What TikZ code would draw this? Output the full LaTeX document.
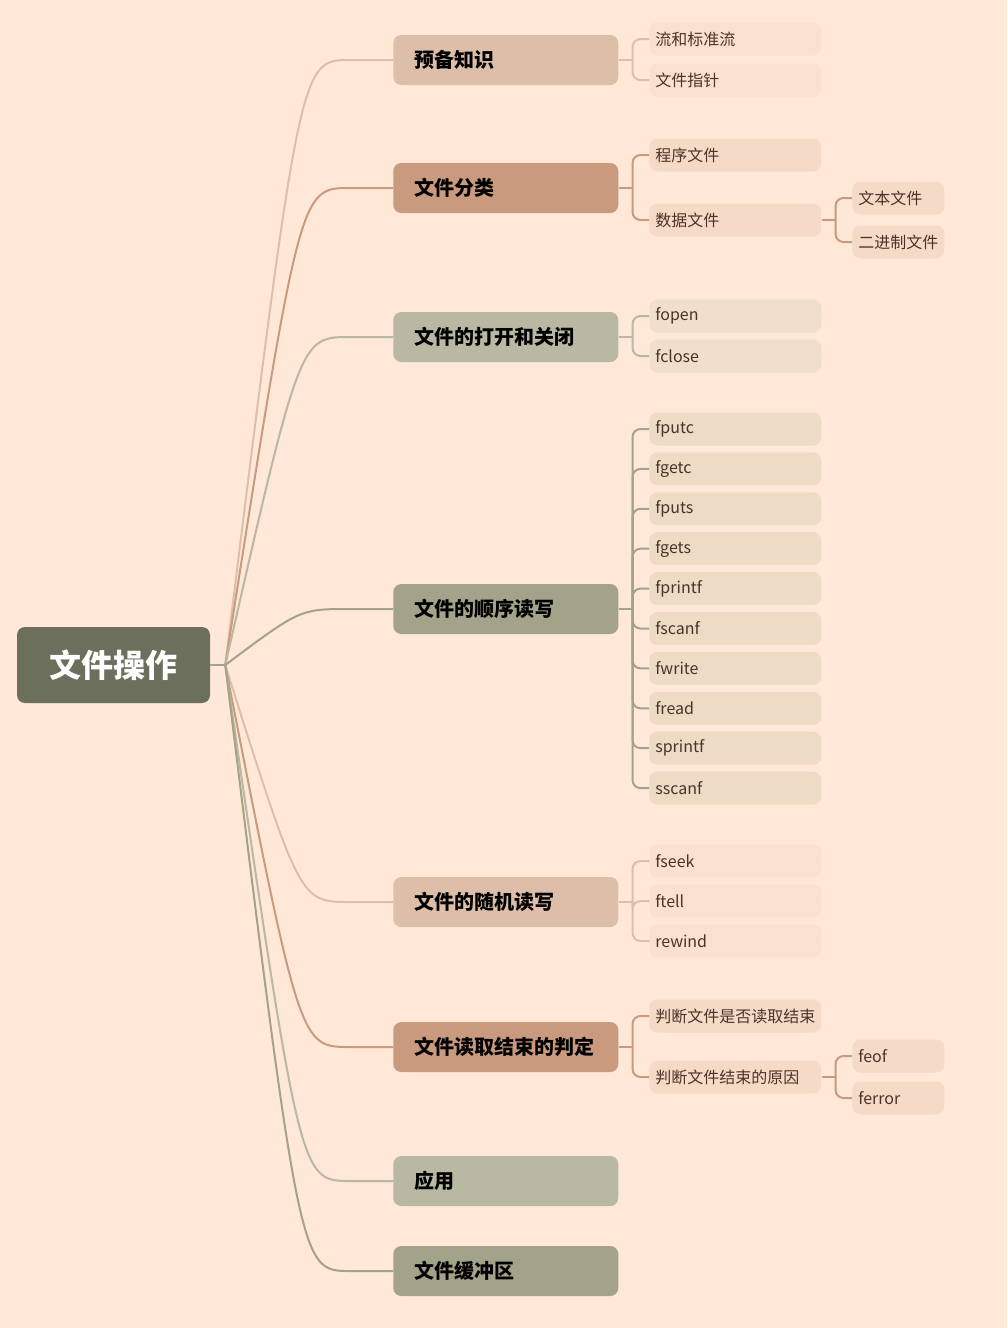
\documentclass[tikz,border=0pt]{standalone}
\usepackage{fontspec}
\setmainfont{Noto Sans CJK SC}
\usetikzlibrary{positioning,calc}
\definecolor{paper}{HTML}{FFE8D8}
\definecolor{rootc}{HTML}{6B6F5B}
\definecolor{tanA}{HTML}{DDBFA9}
\definecolor{tanB}{HTML}{C99A7E}
\definecolor{sageA}{HTML}{B8B8A3}
\definecolor{sageB}{HTML}{A3A38A}
\definecolor{leafA}{HTML}{F9E0CF}
\definecolor{leafB}{HTML}{F5DBC7}
\definecolor{leafC}{HTML}{F0DFCA}
\definecolor{leafD}{HTML}{EDDBC6}
\definecolor{ink}{HTML}{4A3428}

\begin{document}
\begin{tikzpicture}[x=0.75pt,y=-0.75pt,
  root/.style={fill=rootc,rounded corners=6pt,minimum width=144.75pt,minimum height=57pt,text=white,font=\fontsize{24}{28}\selectfont\bfseries},
  topic/.style={rounded corners=6pt,anchor=west,minimum height=37.5pt,text width=137.25pt,inner xsep=15.75pt,align=left,font=\fontsize{15}{18}\selectfont\bfseries},
  leaf/.style={rounded corners=6pt,anchor=west,minimum height=24.75pt,text width=120pt,inner xsep=4.5pt,align=left,text=ink,font=\fontsize{12}{14}\selectfont},
  subleaf/.style={leaf,text width=60pt},
  link/.style={line width=1.5pt},
  bracket/.style={line width=1.5pt,rounded corners=6pt}]
\path[use as bounding box,fill=paper] (0,0) rectangle (1007,1328);

% root and main topics
\node[root] (ops) at (113.5,665) {文件操作};
\node[topic,fill=tanA] (prep) at (393,60) {预备知识};
\node[topic,fill=tanB] (kind) at (393,188) {文件分类};
\node[topic,fill=sageA] (open) at (393,337) {文件的打开和关闭};
\node[topic,fill=sageB] (seq) at (393,609) {文件的顺序读写};
\node[topic,fill=tanA] (rand) at (393,902) {文件的随机读写};
\node[topic,fill=tanB] (eof) at (393,1047) {文件读取结束的判定};
\node[topic,fill=sageA] (app) at (393,1181) {应用};
\node[topic,fill=sageB] (buf) at (393,1271) {文件缓冲区};

\coordinate (hub) at ($(ops.east)+(15,0)$);
\draw[link,sageB] (ops.east)--(hub);
\foreach \b/\c in {prep/tanA,kind/tanB,open/sageA,seq/sageB,rand/tanA,eof/tanB,app/sageA,buf/sageB}
  \draw[link,\c] (hub) .. controls ($(\b.west)+(-93,0)$) .. ($(\b.west)+(-43,0)$) -- (\b.west);

% leaves
\node[leaf,fill=leafA] (stream) at (649,39) {流和标准流};
\node[leaf,fill=leafA] (fptr) at (649,80) {文件指针};
\coordinate (prepj) at ($(prep.east)+(14,0)$);
\draw[link,tanA] (prep.east)--(prepj);
\draw[bracket,tanA] (prepj) |- (stream.west);
\draw[bracket,tanA] (prepj) |- (fptr.west);

\node[leaf,fill=leafB] (prog) at (649,155) {程序文件};
\node[leaf,fill=leafB] (data) at (649,220) {数据文件};
\node[subleaf,fill=leafB] (text) at (852,198) {文本文件};
\node[subleaf,fill=leafB] (bin) at (852,242) {二进制文件};
\coordinate (kindj) at ($(kind.east)+(14,0)$);
\coordinate (dataj) at ($(data.east)+(14,0)$);
\draw[link,tanB] (kind.east)--(kindj);
\draw[bracket,tanB] (kindj) |- (prog.west);
\draw[bracket,tanB] (kindj) |- (data.west);
\draw[link,tanB] (data.east)--(dataj);
\draw[bracket,tanB] (dataj) |- (text.west);
\draw[bracket,tanB] (dataj) |- (bin.west);

\node[leaf,fill=leafC] (fopen) at (649,316) {fopen};
\node[leaf,fill=leafC] (fclose) at (649,356) {fclose};
\coordinate (openj) at ($(open.east)+(14,0)$);
\draw[link,sageA] (open.east)--(openj);
\draw[bracket,sageA] (openj) |- (fopen.west);
\draw[bracket,sageA] (openj) |- (fclose.west);

\coordinate (seqj) at ($(seq.east)+(14,0)$);
\draw[link,sageB] (seq.east)--(seqj);
\foreach \f [count=\i from 0] in {fputc,fgetc,fputs,fgets,fprintf,fscanf,fwrite,fread,sprintf,sscanf} {
  \node[leaf,fill=leafD] (io\i) at (649,{429+39.9*\i}) {\f};
  \draw[bracket,sageB] (seqj) |- (io\i.west);
}

\node[leaf,fill=leafA] (fseek) at (649,861) {fseek};
\node[leaf,fill=leafA] (ftell) at (649,901) {ftell};
\node[leaf,fill=leafA] (rewind) at (649,941) {rewind};
\coordinate (randj) at ($(rand.east)+(14,0)$);
\draw[link,tanA] (rand.east)--(randj);
\foreach \n in {fseek,ftell,rewind}
  \draw[bracket,tanA] (randj) |- (\n.west);

\node[leaf,fill=leafB] (isend) at (649,1016) {判断文件是否读取结束};
\node[leaf,fill=leafB] (why) at (649,1077) {判断文件结束的原因};
\node[subleaf,fill=leafB] (feof) at (852,1056) {feof};
\node[subleaf,fill=leafB] (ferror) at (852,1098) {ferror};
\coordinate (eofj) at ($(eof.east)+(14,0)$);
\coordinate (whyj) at ($(why.east)+(14,0)$);
\draw[link,tanB] (eof.east)--(eofj);
\draw[bracket,tanB] (eofj) |- (isend.west);
\draw[bracket,tanB] (eofj) |- (why.west);
\draw[link,tanB] (why.east)--(whyj);
\draw[bracket,tanB] (whyj) |- (feof.west);
\draw[bracket,tanB] (whyj) |- (ferror.west);
\end{tikzpicture}
\end{document}
